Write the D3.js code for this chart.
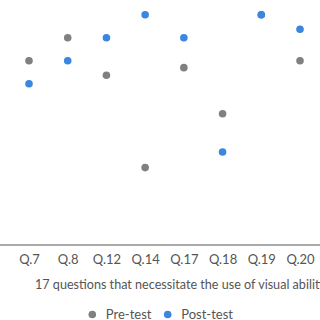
<!DOCTYPE html>
<html>
<head>
<meta charset="utf-8">
<script src="https://cdn.jsdelivr.net/npm/d3@7"></script>
<style>
  body { margin: 0; background: #fff; }
  svg { display: block; font-family: Lato, "Open Sans", sans-serif; }
</style>
</head>
<body>
<div id="chart"></div>
<script>
// data
const questions = ["Q.7", "Q.8", "Q.12", "Q.14", "Q.17", "Q.18", "Q.19", "Q.20"]
const preTest = [80, 90, 73.7, 33.6, 77, 57, 100, 80]
const postTest = [70, 80, 90, 100, 90, 40.4, 100, 93.7]
const seriesNames = ["Pre-test", "Post-test"]
const seriesColors = ["#808080", "#3a86e0"]

const width = 320, height = 320

const svg = d3.select("#chart")
    .append("svg")
    .attr("width", width)
    .attr("height", height)

let x = d3.scalePoint()
    .domain(questions)
    .range([29, 300])

let y = d3.scaleLinear()
    .domain([0, 100])
    .range([245, 14.7])

// x axis: plain grey baseline, labels below
var xAxis = d3.axisBottom(x).tickSize(0).tickPadding(10)
const gx = svg.append("g")
    .attr("transform", "translate(0," + 245 + ")")
    .call(xAxis)
gx.select(".domain").remove()
gx.append("line")
    .attr("x1", 0).attr("x2", width)
    .attr("stroke", "#aaaaaa")
    .attr("stroke-width", 2)
gx.selectAll(".tick text")
    .attr("font-size", 13)
    .attr("fill", "#555")
    .attr("font-family", "Lato, sans-serif")

svg.append("text")
    .attr("x", 35)
    .attr("y", 288.5)
    .attr("font-size", 12.6)
    .attr("fill", "#555")
    .text("17 questions that necessitate the use of visual abilities")

// dots, pre-test first so post-test sits on top
const series = [preTest, postTest]
series.forEach(function (vals, i) {
    svg.append("g")
        .selectAll("circle")
        .data(vals)
        .enter()
        .append("circle")
        .attr("cx", (d, j) => x(questions[j]))
        .attr("cy", d => y(d))
        .attr("r", 3.8)
        .attr("fill", seriesColors[i])
})

// legend
const legendX = [92.3, 167.7]
const legend = svg.append("g")
seriesNames.forEach(function (name, i) {
    legend.append("circle")
        .attr("cx", legendX[i])
        .attr("cy", 314.5)
        .attr("r", 3.8)
        .attr("fill", seriesColors[i])
    legend.append("text")
        .attr("x", legendX[i] + 13.5)
        .attr("y", 319)
        .attr("font-size", 13)
        .attr("fill", "#555")
        .text(name)
})
</script>
</body>
</html>
